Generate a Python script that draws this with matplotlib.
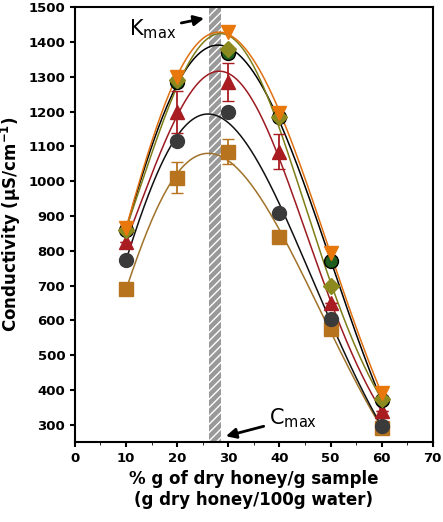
import numpy as np
import matplotlib.pyplot as plt

x = np.array([10, 20, 30, 40, 50, 60])
orange = [865, 1300, 1430, 1195, 795, 390]
olive = [860, 1290, 1380, 1185, 700, 375]
green = [860, 1285, 1370, 1185, 770, 370]
red = [825, 1200, 1285, 1085, 650, 340]
red_err = [0, 60, 55, 50, 0, 0]
grey = [775, 1115, 1200, 910, 605, 295]
brown = [690, 1010, 1085, 840, 575, 290]
brown_err = [0, 45, 35, 0, 0, 0]

series = [
    (brown, brown_err, 's', '#b8731f', '#a0722a'),
    (grey, None, 'o', '#3a3a3a', '#111111'),
    (red, red_err, '^', '#a81c22', '#9c1a20'),
    (green, None, 'o', '#1f5e1f', '#000000'),
    (olive, None, 'D', '#8c8a1e', '#7f7d18'),
    (orange, None, 'v', '#e8770c', '#e07010'),
]

fig = plt.figure(figsize=(4.43, 5.22), dpi=100)
ax = fig.add_axes([0.169, 0.153, 0.808, 0.833])

ax.axvspan(26.2, 28.6, facecolor='#999999', edgecolor='white', hatch='////', lw=0)

xx = np.linspace(10, 60, 300)
for y, err, m, c, lc in series:
    y = np.array(y, float)
    # gaussian-like fit through the points
    co = np.polyfit(x, np.log(y), 4)
    ax.plot(xx, np.exp(np.polyval(co, xx)), color=lc, lw=1.1, zorder=2)
    if err is not None:
        ax.errorbar(x, y, yerr=err, fmt='none', ecolor=c, capsize=4, lw=1.3, zorder=3)
    ms = 10 if m != 'D' else 8
    ax.plot(x, y, m, color=c, ms=ms, mec='black' if c == '#1f5e1f' else c, zorder=4)

ax.set_xlim(0, 70)
ax.set_ylim(250, 1500)
ax.set_xticks(range(0, 71, 10))
ax.set_xticks(range(5, 70, 10), minor=True)
ax.set_yticks(range(300, 1501, 100))
for s in ax.spines.values():
    s.set_linewidth(1.5)
ax.tick_params(labelsize=9.5, width=1.5)
for lab in ax.get_xticklabels() + ax.get_yticklabels():
    lab.set_fontweight('bold')
ax.set_ylabel('Conductivity (µS/cm$^{\\mathbf{-1}}$)', fontsize=12, fontweight='bold')
ax.set_xlabel('% g of dry honey/g sample\n(g dry honey/100g water)', fontsize=12, fontweight='bold')

ax.annotate('K$_{\\mathrm{max}}$', xy=(25.8, 1470), xytext=(10.5, 1420), fontsize=15,
            arrowprops=dict(arrowstyle='-|>', color='black', lw=2))
ax.annotate('C$_{\\mathrm{max}}$', xy=(29, 265), xytext=(38, 300), fontsize=15,
            arrowprops=dict(arrowstyle='-|>', color='black', lw=2))

fig.savefig('out.png', dpi=100)
